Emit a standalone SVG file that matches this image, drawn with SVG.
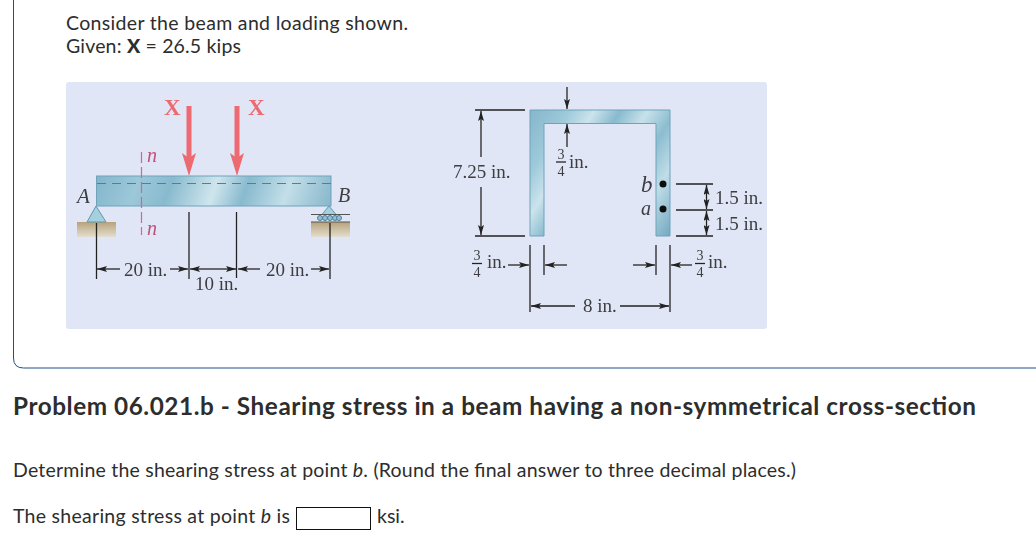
<svg xmlns="http://www.w3.org/2000/svg" width="1036" height="556" viewBox="0 0 1036 556">
<defs>
<linearGradient id="steel" gradientUnits="userSpaceOnUse" x1="96" y1="150" x2="331" y2="232">
<stop offset="0" stop-color="#7fb2c8"/><stop offset="0.2" stop-color="#9cc8d9"/><stop offset="0.33" stop-color="#88bace"/><stop offset="0.5" stop-color="#cfe5ed"/><stop offset="0.62" stop-color="#88bace"/><stop offset="0.78" stop-color="#c3dfe9"/><stop offset="1" stop-color="#7baec5"/>
</linearGradient>
<linearGradient id="chan" gradientUnits="userSpaceOnUse" x1="525" y1="120" x2="680" y2="215">
<stop offset="0" stop-color="#85b6ca"/><stop offset="0.18" stop-color="#9ecada"/><stop offset="0.3" stop-color="#cbe3ec"/><stop offset="0.42" stop-color="#88bace"/><stop offset="0.55" stop-color="#c7e1ea"/><stop offset="0.68" stop-color="#8cbdd0"/><stop offset="0.82" stop-color="#c0dde8"/><stop offset="1" stop-color="#78acc3"/>
</linearGradient>
<linearGradient id="ground" x1="0" y1="0" x2="0" y2="1"><stop offset="0" stop-color="#b7a27a"/><stop offset="1" stop-color="#e3decf"/></linearGradient>
<filter id="soft" x="-5%" y="-5%" width="110%" height="110%"><feGaussianBlur stdDeviation="0.45"/></filter>
<marker id="ah" viewBox="0 0 10 6" refX="10" refY="3" markerWidth="10" markerHeight="6" orient="auto-start-reverse" markerUnits="userSpaceOnUse"><path d="M0 0L10 3L0 6L2 3Z" fill="#222"/></marker>
</defs>
<style>
.ui{font-family:Lato,"Open Sans","Liberation Sans",sans-serif;fill:#2d2d2d;font-size:19.5px}
.fig{font-family:"Liberation Serif",serif;fill:#3d3d42;font-size:19px}
.frac{font-size:14px;text-anchor:middle}
.it{font-style:italic}
.dim{stroke:#222;stroke-width:1.3;fill:none}
.da{stroke:#222;stroke-width:1.3;fill:none;marker-end:url(#ah)}
.st{fill:url(#steel);stroke:#6fa3bb;stroke-width:1}
</style>
<rect width="1036" height="556" fill="#fff"/>
<path d="M13.500 0V358Q13.500 368 23.500 368H1036" fill="none" stroke="#1f4f85" stroke-width="1"/>
<g id="intro">
<text class="ui" x="66" y="30" textLength="342">Consider the beam and loading shown.</text>
<text class="ui" x="66" y="53" textLength="175">Given: <tspan font-weight="900">X</tspan> = 26.5 kips</text>
</g>
<rect id="panel" x="66" y="82" width="701" height="247" rx="3" fill="#e0e6f5"/>
<g filter="url(#soft)">
<g id="beam">
<rect x="77" y="222" width="39" height="15" fill="url(#ground)"/>
<rect x="311" y="222" width="39" height="15" fill="url(#ground)"/>
<path d="M96 206L87 222H106Z" fill="#a5d0de" stroke="#5f96ae"/>
<path d="M329 206L322 214.500H336Z" fill="#a5d0de" stroke="#5f96ae"/>
<path d="M311 214.500H350M311 222H350" stroke="#555" stroke-width="1"/>
<g fill="#8fc0d4" stroke="#4d7f99"><circle cx="320" cy="218" r="2.500"/><circle cx="325" cy="218" r="2.500"/><circle cx="330" cy="218" r="2.500"/><circle cx="335" cy="218" r="2.500"/><circle cx="339" cy="218" r="2.500"/></g>
<rect class="st" x="96.500" y="176" width="234.500" height="30"/>
<path d="M97 183.500H331" stroke="#4f7f99" stroke-width="1" stroke-dasharray="9 6"/>
<text class="fig it" x="77" y="203" style="font-size:21px">A</text>
<text class="fig it" x="338" y="202" style="font-size:20px">B</text>
</g>
<g id="section-nn">
<path d="M141.500 152V235" stroke="#d9668a" stroke-width="1.200" stroke-dasharray="11 4" fill="none"/>
<text class="fig it" x="147" y="162" style="fill:#c0507c;font-size:20px">n</text>
<text class="fig it" x="147" y="235" style="fill:#c0507c;font-size:20px">n</text>
</g>
<g id="loads">
<g fill="#ec6a70">
<rect x="186.500" y="106" width="5" height="52"/><path d="M182 153L189 176L196 153L189 158Z"/>
<rect x="234.500" y="106" width="5" height="52"/><path d="M230 153L237 176L244 153L237 158Z"/>
</g>
<text class="fig" x="164" y="115" font-weight="700" style="fill:#ec6a70;font-size:23px">X</text>
<text class="fig" x="248" y="115" font-weight="700" style="fill:#ec6a70;font-size:23px">X</text>
</g>
<g id="beam-dims">
<path class="dim" d="M96.500 223V279M189 212V279M236.500 212V278M330 223V279"/>
<path class="da" d="M120 269H97"/><path class="da" d="M170 269H188"/>
<path class="da" d="M212 269H190"/><path class="da" d="M212 269H236"/>
<path class="da" d="M260 269H238"/><path class="da" d="M311 269H329"/>
<text class="fig" x="124" y="276">20 in.</text>
<text class="fig" x="195" y="290">10 in.</text>
<text class="fig" x="266" y="276">20 in.</text>
</g>
<g id="channel">
<path d="M530 110H670V236H656V123.500H544V236H530Z" fill="url(#chan)" stroke="#6fa3bb"/>
<circle cx="663" cy="184" r="3.500" fill="#111"/>
<circle cx="663" cy="209" r="3.500" fill="#111"/>
<text class="fig it" x="641" y="192" style="font-size:23px">b</text>
<text class="fig it" x="641" y="215" style="font-size:20px">a</text>
</g>
<g id="channel-dims">
<path class="dim" d="M475 110H525M475 236H525M676 184H713M676 210H713M676 236H713M530 245V312M544 245V275M656 245V275M670 245V312"/>
<path class="da" d="M481 157V111"/><path class="da" d="M481 187V235"/>
<path class="da" d="M567 87V109"/><path class="da" d="M567 147V124"/>
<path class="da" d="M706.500 197V185"/><path class="da" d="M706.500 197V209"/>
<path class="da" d="M706.500 223V211"/><path class="da" d="M706.500 223V235"/>
<path class="da" d="M508 265H529"/><path class="da" d="M567 265H545"/>
<path class="da" d="M633 265H655"/><path class="da" d="M692 265H671"/>
<path class="da" d="M575 306H531"/><path class="da" d="M620 306H669"/>
<text class="fig" x="453" y="178">7.25 in.</text>
<text class="fig" x="569" y="168">in.</text>
<text class="fig" x="715" y="204">1.5 in.</text>
<text class="fig" x="715" y="230">1.5 in.</text>
<text class="fig" x="487" y="268">in.</text>
<text class="fig" x="708" y="268">in.</text>
<text class="fig" x="583" y="312">8 in.</text>
<text class="fig frac" x="561" y="159">3</text><text class="fig frac" x="561" y="176">4</text><path class="dim" d="M556 162H566"/>
<text class="fig frac" x="477" y="260">3</text><text class="fig frac" x="477" y="277">4</text><path class="dim" d="M472 263.500H482"/>
<text class="fig frac" x="700" y="260">3</text><text class="fig frac" x="700" y="277">4</text><path class="dim" d="M695 263.500H705"/>
</g>
</g>
<g id="question">
<text class="ui" x="13" y="415" font-weight="700" textLength="963" style="font-size:24.300px">Problem 06.021.b - Shearing stress in a beam having a non-symmetrical cross-section</text>
<text class="ui" x="13" y="477" textLength="783">Determine the shearing stress at point <tspan font-style="italic">b</tspan>. (Round the final answer to three decimal places.)</text>
<text class="ui" x="13" y="523" textLength="277">The shearing stress at point <tspan font-style="italic">b</tspan> is</text>
<rect x="296.500" y="507.500" width="74" height="22" fill="#fff" stroke="#111" stroke-width="1"/>
<text class="ui" x="377" y="523">ksi.</text>
</g>
</svg>
